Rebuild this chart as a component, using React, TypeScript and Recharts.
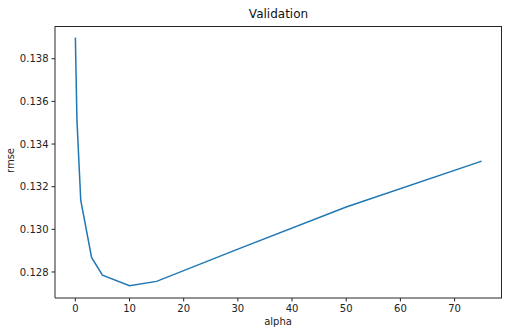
import React from 'react';
import { LineChart, Line, XAxis, YAxis } from 'recharts';

const alphas = [0.01, 0.3, 1, 3, 5, 10, 15, 30, 50, 75];
const rmse = [0.13899, 0.13512, 0.13137, 0.12868, 0.12785, 0.12736, 0.12756, 0.12907, 0.13105, 0.1332];
const xTicks = [0, 10, 20, 30, 40, 50, 60, 70];
const yTicks = [0.128, 0.13, 0.132, 0.134, 0.136, 0.138];

const data = alphas.map((a, i) => ({ alpha: a, rmse: rmse[i] }));

const FONT = 'DejaVu Sans, sans-serif';
const AX = '#262626';

export default function App() {
  const tickStyle = { fontSize: 10, fill: '#222', fontFamily: FONT };
  return (
    <div style={{ position: 'absolute', left: 0, top: 0, width: 506, height: 332, background: '#fff', fontFamily: FONT }}>
      <div style={{ position: 'absolute', left: 55, width: 447, top: 7, textAlign: 'center', fontSize: 12, color: '#111' }}>Validation</div>
      <div style={{ position: 'absolute', left: 278 - 40, width: 80, top: 316, textAlign: 'center', fontSize: 10, color: '#222' }}>alpha</div>
      <div style={{ position: 'absolute', left: 10 - 40, width: 80, top: 162 - 7, textAlign: 'center', fontSize: 10, color: '#222', transform: 'rotate(-90deg)' }}>rmse</div>
      <LineChart width={506} height={332} data={data} margin={{ top: 26, right: 4, left: 0, bottom: 0 }}>
        <XAxis
          dataKey="alpha"
          type="number"
          domain={[-3.75, 78.75]}
          ticks={xTicks}
          allowDataOverflow
          height={34}
          tickSize={3.5}
          tickMargin={3}
          tick={tickStyle}
          stroke={AX}
          tickLine={{ stroke: AX }}
          axisLine={{ stroke: AX, strokeWidth: 1 }}
        />
        <YAxis
          dataKey="rmse"
          type="number"
          domain={[0.12678, 0.139535]}
          ticks={yTicks}
          allowDataOverflow
          width={55}
          tickSize={3.5}
          tickMargin={3}
          tick={tickStyle}
          tickFormatter={(v: number) => v.toFixed(3)}
          stroke={AX}
          tickLine={{ stroke: AX }}
          axisLine={{ stroke: AX, strokeWidth: 1 }}
        />
        <Line type="linear" dataKey="rmse" stroke="#1f77b4" strokeWidth={1.5} dot={false} isAnimationActive={false} />
      </LineChart>
      <div style={{ position: 'absolute', left: 55, top: 26, width: 447, height: 1, background: AX, pointerEvents: 'none' }} />
      <div style={{ position: 'absolute', left: 501, top: 26, width: 1, height: 272, background: AX, pointerEvents: 'none' }} />
    </div>
  );
}
